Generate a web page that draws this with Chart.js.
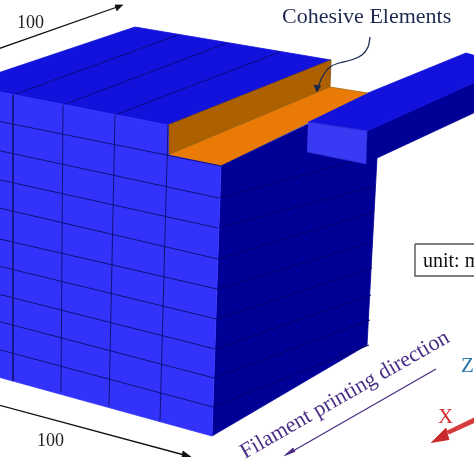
<!DOCTYPE html>
<html><head><meta charset="utf-8">
<style>html,body{margin:0;padding:0;background:#fff}canvas{display:block}</style>
<script src="https://cdn.jsdelivr.net/npm/chart.js@4/dist/chart.umd.min.js"></script>
</head><body><canvas id="c" width="474" height="474" style="width:474px;height:474px"></canvas>
<script>
// Geometry values (x, y on a 0-474 plot)
const topFace = [[-20,79],[135,27],[331,60],[168,125],[-20,88]];
const slotWall = [[168,125],[331,60],[330,87],[168,155]];
const slotFloor = [[168,155],[330,87],[368,93],[221,166]];
const frontLower = [[-20,88],[168,125],[168,155],[221,166],[212,436],[-20,372]];
const sideFace = [[221,166],[308,124],[367,140],[377,158],[367,345],[212,436]];
const beamTop = [[308,122],[367,131],[480,80],[480,57],[466,53],[368,93]];
const beamSide = [[367,131],[480,80],[480,110],[377,158],[366,164]];
const beamEnd = [[308,122],[367,131],[366,164],[307,152]];

const rowLeftY = [122,151,180,208,239,266,294,321,349];
const rowRightX = [221,219,218,218,217,216,215,214,213];
const rowRightY = [166,198,228,259,289,319,349,378,407];
const colTopX = [13,63,115,168];
const colTopY = [95,105,115,125];
const colBottomX = [13,61,109,160];
const colBottomY = [381,392,406,421];
const sideRowFarX = [377,376,375,374,373,372,371,370,369];
const sideRowFarY = [127,155,186,212,242,268,295,320,345];
const topLineFarX = [178,227,280];
const topLineFarY = [35,43,52];

const topArrow = [[-5,50],[120,6]];
const topHead = [[123,5],[115,5],[117,11]];
const bottomArrow = [[-5,404],[188,456]];
const bottomHead = [[191,457],[183,451],[182,457]];
const purpleArrow = [[436,369],[286,455]];
const purpleHead = [[284,456],[293,448],[295,452]];
const cohesiveCurve = [[370,37],[368,47],[362,55],[351,60],[339,63],[330,67],[324,74],[320,82],[318,90]];
const cohesiveHead = [[317,92],[314,85],[321,86]];
const unitBox = [[415,244],[485,244],[485,276],[415,276],[415,244]];
const redShaft = [[480,415],[447,431],[449,434],[480,420]];
const redHead = [[431,443],[446,428],[449,440]];

const textLabels = ["100","100","Cohesive Elements","unit: mm","Filament printing direction","Z","X"];

function pts(a){return a.map(p=>({x:p[0],y:p[1]}));}
function poly(a,color,edge,w){return {data:pts(a),showLine:true,fill:'shape',backgroundColor:color,borderColor:edge||color,borderWidth:w===undefined?0.8:w,pointRadius:0,tension:0};}
function line(a,color,w,t){return {data:pts(a),showLine:true,fill:false,borderColor:color,borderWidth:w,pointRadius:0,tension:t||0};}

const ds = [];
const FRONT='#3232fb',TOP='#1212dc',SIDE='#000096',GRID='#12127a',SGRID='#00006e';
ds.push(poly(topFace,TOP));
topLineFarX.forEach((x,i)=>ds.push(line([[colTopX[i],colTopY[i]],[x,topLineFarY[i]]],'#0a0a80',1)));
ds.push(poly(slotWall,'#ad6000','#7a4a00'));
ds.push(poly(slotFloor,'#e97a06','#a86a10'));
ds.push(poly(sideFace,SIDE));
rowRightX.forEach((x,i)=>{ if(i>0) ds.push(line([[x,rowRightY[i]],[sideRowFarX[i],sideRowFarY[i]]],SGRID,1)); });
ds.push(poly(frontLower,FRONT));
rowLeftY.forEach((y,i)=>ds.push(line([[-20,y-4.5],[rowRightX[i],rowRightY[i]]],GRID,1)));
colTopX.forEach((x,i)=>ds.push(line([[x,colTopY[i]],[colBottomX[i],colBottomY[i]]],GRID,1)));
ds.push(poly(beamSide,SIDE));
ds.push(poly(beamTop,TOP));
ds.push(poly(beamEnd,'#3a3af5','#2a2ad0'));
ds.push(line(topArrow,'#111',1.3)); ds.push(poly(topHead,'#111'));
ds.push(line(bottomArrow,'#111',1.3)); ds.push(poly(bottomHead,'#111'));
ds.push(line(purpleArrow,'#4b2d86',1.3)); ds.push(poly(purpleHead,'#4b2d86'));
ds.push(line(cohesiveCurve,'#1c2850',1.3,0.4)); ds.push(poly(cohesiveHead,'#1c2850'));
ds.push(line(unitBox,'#555',1.4));
ds.push(poly(redShaft,'#d63a3a'));
ds.push(poly(redHead,'#c92a2a'));

const textStyle = [
 {x:17,y:28,font:'18px "Liberation Serif"',color:'#222',rot:0},
 {x:37,y:446,font:'18px "Liberation Serif"',color:'#222',rot:0},
 {x:282,y:23,font:'22px "Liberation Serif"',color:'#1f2a50',rot:0},
 {x:423,y:267,font:'20px "Liberation Serif"',color:'#111',rot:0},
 {x:245,y:459,font:'22px "Liberation Serif"',color:'#4b2d86',rot:-29.8},
 {x:461,y:372,font:'21px "Liberation Serif"',color:'#2a74a8',rot:0},
 {x:438,y:423,font:'21px "Liberation Serif"',color:'#d42a2a',rot:0}
];
const textPlugin = {id:'texts',afterDatasetsDraw(chart){
  const {ctx,scales:{x,y}}=chart;
  textLabels.forEach((t,i)=>{const s=textStyle[i];ctx.save();
    ctx.translate(x.getPixelForValue(s.x),y.getPixelForValue(s.y));
    ctx.rotate(s.rot*Math.PI/180);ctx.font=s.font;ctx.fillStyle=s.color;ctx.textBaseline='alphabetic';ctx.fillText(t,0,0);ctx.restore();});
}};

new Chart(document.getElementById('c'),{
 type:'scatter',
 data:{datasets:ds.reverse()},
 plugins:[textPlugin],
 options:{responsive:false,animation:false,events:[],
  layout:{padding:0},
  plugins:{legend:{display:false},tooltip:{enabled:false},title:{display:false}},
  scales:{x:{type:'linear',min:0,max:474,display:false},y:{type:'linear',min:0,max:474,reverse:true,display:false}}
 }
});
</script></body></html>
